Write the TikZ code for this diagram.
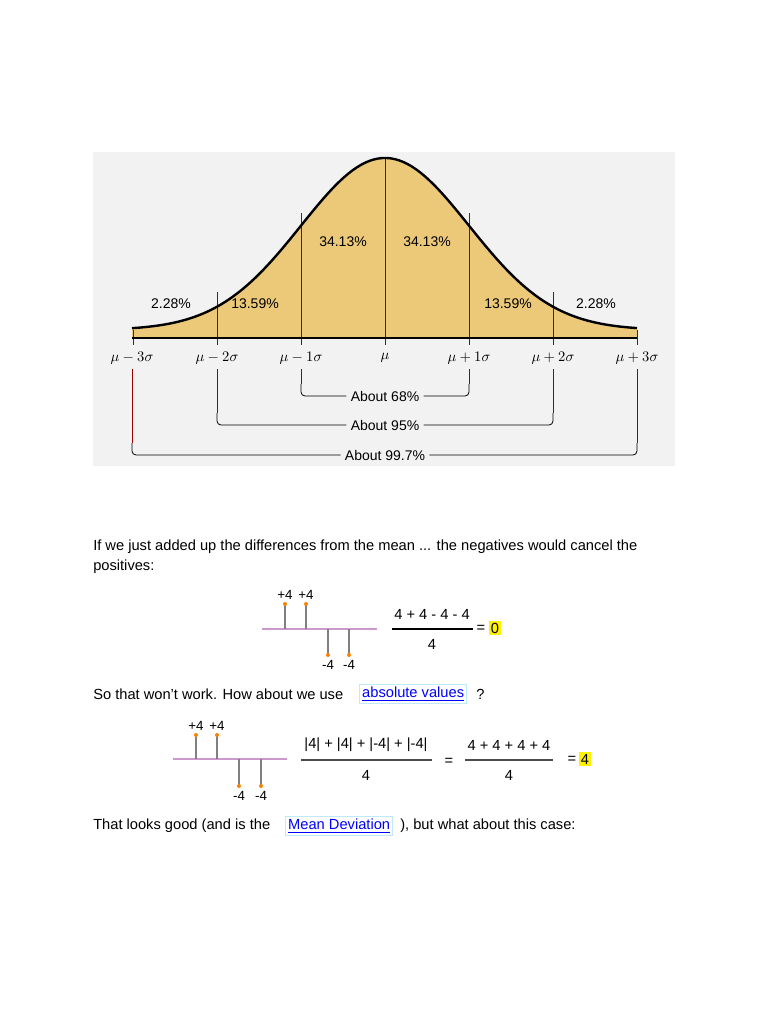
\documentclass[tikz,border=0pt]{standalone}
\usepackage{fontspec}
\setmainfont{Liberation Sans}
\begin{document}
\begin{tikzpicture}[x=0.75pt,y=-0.75pt,
  every node/.style={inner sep=0pt,font=\fontsize{11}{13}\selectfont},
  rl/.style={draw=red!60!black,line width=0.6pt},
  br/.style={draw=black,line width=0.6pt,rounded corners=3pt},
  lbl/.style={font=\fontsize{10.5}{12}\selectfont},
  ml/.style={font=\fontsize{11}{12}\selectfont},
  ax/.style={draw=violet!40,line width=0.8pt},
  stk/.style={draw=gray,line width=1pt},
  dt/.style={fill=orange,circle,minimum size=3pt},
  lk/.style={draw=cyan!25,line width=0.8pt,inner sep=2pt,text=blue},
  hl/.style={fill=yellow,inner sep=1.5pt}]
\useasboundingbox (0,0) rectangle (768,1024);
\fill[white] (0,0) rectangle (768,1024);
\fill[black!5] (93,152) rectangle (675,466);
% curve
\fill[fill={rgb,255:red,236;green,201;blue,121}] (132,338) -- plot[domain=132:637,samples=120] (\x,{338-8-172*exp(-((\x-385)/84)^2/2)}) -- (637,338) -- cycle;
\foreach \k/\t in {1/213,2/292,3/330}{
  \draw[rl] ({385-84*\k},\t) -- ({385-84*\k},345);
  \draw[rl] ({385+84*\k},\t) -- ({385+84*\k},345);}
\draw[rl] (385,158) -- (385,345);
\draw[line width=1.8pt] plot[domain=132:637,samples=120] (\x,{338-8-172*exp(-((\x-385)/84)^2/2)});
\draw[line width=1.2pt] (132,338) -- (637,338);
\node[lbl] (p1) at (343,242) {34.13\%};
\node[lbl] (p2) at (427,242) {34.13\%};
\node[lbl] (p3) at (255,304) {13.59\%};
\node[lbl] (p4) at (508,304) {13.59\%};
\node[lbl] (p5) at (171,304) {2.28\%};
\node[lbl] (p6) at (596,304) {2.28\%};
\foreach \x/\s in {132/{\mu-3\sigma},217/{\mu-2\sigma},301/{\mu-1\sigma},385/{\mu},469/{\mu+1\sigma},553/{\mu+2\sigma},637/{\mu+3\sigma}}
  \node[ml] at (\x,358) {$\s$};
\node[lbl,fill=black!5,inner sep=3pt] (a68) at (385,396) {About 68\%};
\node[lbl,fill=black!5,inner sep=3pt] (a95) at (385,425) {About 95\%};
\node[lbl,fill=black!5,inner sep=3pt] (a99) at (385,455) {About 99.7\%};
\draw[rl] (301,369) -- (301,384); \draw[rl] (469,369) -- (469,384);
\draw[rl] (217,369) -- (217,413); \draw[rl] (553,369) -- (553,413);
\draw[rl] (132,369) -- (132,443); \draw[rl] (637,369) -- (637,443);
\draw[br] (301,384) |- (a68.west); \draw[br] (469,384) |- (a68.east);
\draw[br] (217,413) |- (a95.west); \draw[br] (553,413) |- (a95.east);
\draw[br] (132,443) |- (a99.west); \draw[br] (637,443) |- (a99.east);
% text
\node[anchor=west] (t1) at (93,547) {If we just added up the differences from the mean ... the negatives would cancel the};
\node[anchor=west] (t2) at (93,567) {positives:};
% diagram 1
\draw[ax] (262,629) -- (377,629);
\foreach \x in {285,306}{\draw[stk] (\x,629) -- (\x,604); \node[dt] at (\x,604) {}; \node[font=\fontsize{10}{11}\selectfont] at (\x,595) {+4};}
\foreach \x in {328,349}{\draw[stk] (\x,629) -- (\x,655); \node[dt] at (\x,655) {}; \node[font=\fontsize{10}{11}\selectfont] at (\x,665) {-4};}
\node (n1) at (432,614) {4 + 4 - 4 - 4};
\draw[line width=1.2pt] (392,629) -- (473,629);
\node (d1) at (432,644) {4};
\node (e1) at (481,629) {=};
\node[hl] (z1) at (495,628) {0};
% line 3
\node[anchor=west] (t3) at (93,694) {So that won't work. How about we use};
\node[lk,anchor=west] (l1) at (359,694) {\underline{absolute values}};
\node[anchor=west] (q) at (476,694) {?};
% diagram 2
\draw[ax] (173,759) -- (287,759);
\foreach \x in {196,217}{\draw[stk] (\x,759) -- (\x,735); \node[dt] at (\x,735) {}; \node[font=\fontsize{10}{11}\selectfont] at (\x,726) {+4};}
\foreach \x in {239,261}{\draw[stk] (\x,759) -- (\x,786); \node[dt] at (\x,786) {}; \node[font=\fontsize{10}{11}\selectfont] at (\x,796) {-4};}
\node (n2) at (366,745) {|4| + |4| + |-4| + |-4|};
\draw[line width=0.8pt,black!70] (301,760) -- (432,760);
\node (d2) at (366,775) {4};
\node (e2) at (449,762) {=};
\node (n3) at (509,745) {4 + 4 + 4 + 4};
\draw[line width=0.8pt,black!70] (465,760) -- (553,760);
\node (d3) at (509,775) {4};
\node (e3) at (572,760) {=};
\node[hl] (z2) at (585,759) {4};
% line 4
\node[anchor=west] (t4) at (93,826) {That looks good (and is the};
\node[lk,anchor=west] (l2) at (285,826) {\underline{Mean Deviation}};
\node[anchor=west] (t5) at (400,826) {), but what about this case:};
\end{tikzpicture}
\end{document}
